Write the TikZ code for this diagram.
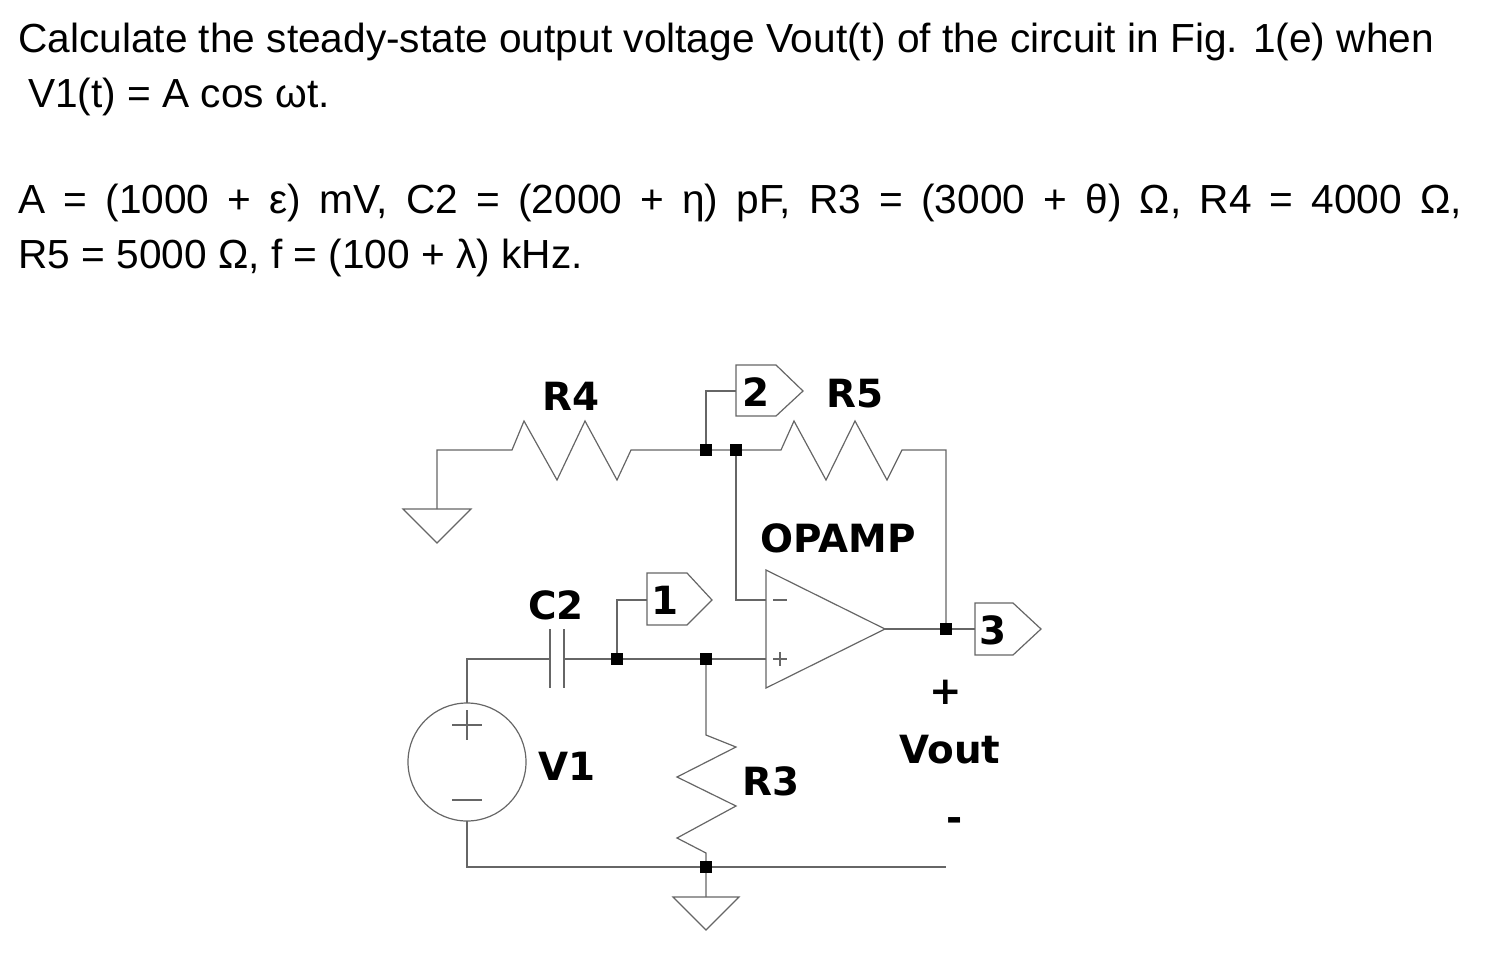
\documentclass[tikz,border=0pt]{standalone}
\usepackage{fontspec}
\setmainfont{Liberation Sans}
\newfontfamily\lbl{DejaVu Sans}
\begin{document}
\begin{tikzpicture}[x=1bp,y=-1bp,
  wire/.style={draw=black!60,line width=1.2bp},
  dot/.style={fill=black,minimum size=12bp,inner sep=0pt,draw=none},
  lab/.style={font=\lbl\bfseries\fontsize{39}{42}\selectfont,inner sep=0pt},
  txt/.style={font=\fontsize{40.8}{44}\selectfont,anchor=west,inner sep=0pt},
  port/.style={wire,fill=white}]
\useasboundingbox (0,0) rectangle (1485,953);
% problem text
\node[txt] (t1) at (18,42) {Calculate the steady-state output voltage Vout(t) of the circuit in Fig. 1(e) when};
\node[txt] (t2) at (28,97) {V1(t) = A cos ωt.};
\node[txt] (t3) at (18,203) {\makebox[1444bp][s]{A = (1000 + ε) mV, C2 = (2000 + η) pF, R3 = (3000 + θ) Ω, R4 = 4000 Ω,}};
\node[txt] (t4) at (18,258) {R5 = 5000 Ω, f = (100 + λ) kHz.};
% coordinates
\coordinate (g1) at (437,509);
\coordinate (gl) at (437,450);
\coordinate (r4a) at (512,450);
\coordinate (r4b) at (631,450);
\coordinate (n2a) at (706,450);
\coordinate (n2b) at (736,450);
\coordinate (r5a) at (781,450);
\coordinate (r5b) at (902,450);
\coordinate (fr) at (946,450);
\coordinate (out) at (946,629);
\coordinate (inm) at (766,600);
\coordinate (inp) at (766,659);
\coordinate (tip) at (885,629);
\coordinate (c2a) at (550,659);
\coordinate (c2b) at (564,659);
\coordinate (n1) at (617,659);
\coordinate (n3) at (706,659);
\coordinate (vtop) at (467,703);
\coordinate (vbot) at (467,821);
\coordinate (bl) at (467,867);
\coordinate (gb) at (706,867);
\coordinate (br) at (946,867);
\coordinate (r3a) at (706,735);
\coordinate (r3b) at (706,853);
\coordinate (g2) at (706,897);
% grounds
\draw[wire] (403,509) -- (471,509) -- (437,543) -- cycle;
\draw[wire] (673,897) -- (739,897) -- (706,930) -- cycle;
% top branch
\draw[wire] (g1) -- (gl) -- (r4a) -- (524,421) -- (557,480) -- (585,421) -- (617,480) -- (r4b) -- (n2a) -- (n2b) -- (r5a)
  -- (794,421) -- (826,480) -- (855,421) -- (887,480) -- (r5b) -- (fr) -- (out);
\draw[wire] (n2b) |- (inm);
% opamp
\draw[wire] (766,570) -- (766,688) -- (tip) -- cycle;
\draw[wire] (773,600) -- (787,600);
\draw[wire] (773,659) -- (787,659) (780,652) -- (780,666);
\draw[wire] (tip) -- (out) -- (975,629);
% input
\draw[wire] (vtop) |- (c2a);
\draw[wire] (550,629) -- (550,688) (564,629) -- (564,688);
\draw[wire] (c2b) -- (n1) -- (n3) -- (inp);
\draw[wire] (n3) -- (r3a) -- (736,747) -- (677,777) -- (736,806) -- (677,838) -- (r3b) -- (gb) -- (g2);
\draw[wire] (vbot) -- (bl) -- (gb) -- (br);
% source
\draw[wire] (467,762) circle (59);
\draw[wire] (452,725) -- (482,725) (467,710) -- (467,740);
\draw[wire] (452,800) -- (482,800);
% port flags
\draw[wire] (n2a) |- (736,391);
\draw[port] (736,365) -- (776,365) -- (803,391) -- (776,416) -- (736,416) -- cycle;
\node[lab] (p2) at (756,392) {2};
\draw[wire] (n1) |- (647,600);
\draw[port] (647,573) -- (687,573) -- (712,600) -- (687,625) -- (647,625) -- cycle;
\node[lab] (p1) at (665,600) {1};
\draw[port] (975,603) -- (1013,603) -- (1041,629) -- (1013,655) -- (975,655) -- cycle;
\node[lab] (p3) at (993,630) {3};
% dots
\foreach \p in {n2a,n2b,n1,n3,out,gb} \node[dot] at (\p) {};
% labels
\node[lab] (lr4) at (571,396) {R4};
\node[lab] (lr5) at (855,394) {R5};
\node[lab] (lop) at (838,538) {OPAMP};
\node[lab] (lc2) at (556,605) {C2};
\node[lab] (lv1) at (567,766) {V1};
\node[lab] (lr3) at (771,781) {R3};
\node[lab] (lpl) at (946,692) {+};
\node[lab] (lvo) at (950,750) {Vout};
\node[lab] (lmi) at (955,825) {-};
\end{tikzpicture}
\end{document}
